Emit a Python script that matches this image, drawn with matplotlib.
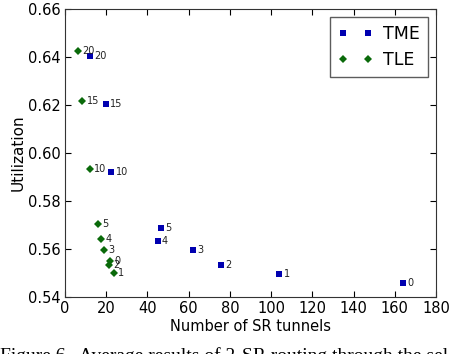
import matplotlib
matplotlib.use('Agg')
import matplotlib.pyplot as plt

# TME points (blue squares)
tme_x = [12, 20, 22.5, 46.5, 45, 62, 75.5, 104, 164]
tme_y = [0.6404, 0.6203, 0.5922, 0.5686, 0.5635, 0.5596, 0.5533, 0.5495, 0.5457]
tme_lbl = ['20', '15', '10', '5', '4', '3', '2', '1', '0']

# TLE points (green diamonds)
tle_x = [6.3, 8.4, 12.1, 16.2, 17.5, 18.9, 21.5, 23.8, 22]
tle_y = [0.6424, 0.6218, 0.5935, 0.5704, 0.5642, 0.5596, 0.5533, 0.5499, 0.5548]
tle_lbl = ['20', '15', '10', '5', '4', '3', '2', '1', '0']

fig = plt.figure(figsize=(4.74, 3.54), dpi=100)
ax = fig.add_axes([65/474, 1-297/354, 371/474, 288/354])

ax.plot(tme_x, tme_y, 's', color='#0000b0', markersize=4.5, markeredgewidth=0, label='TME')
ax.plot(tle_x, tle_y, 'D', color='#0a6a0a', markersize=4.5, markeredgewidth=0, label='TLE')

for x, y, t in zip(tme_x, tme_y, tme_lbl):
    ax.annotate(t, (x, y), xytext=(3, 0), textcoords='offset points',
                va='center', ha='left', fontsize=7, color='#222222')
for x, y, t in zip(tle_x, tle_y, tle_lbl):
    ax.annotate(t, (x, y), xytext=(3, 0), textcoords='offset points',
                va='center', ha='left', fontsize=7, color='#222222')

ax.set_xlim(0, 180)
ax.set_ylim(0.54, 0.66)
ax.set_xticks(range(0, 181, 20))
ax.set_yticks([0.54, 0.56, 0.58, 0.60, 0.62, 0.64, 0.66])
ax.tick_params(direction='in', top=True, right=True, labelsize=10.5, length=4, pad=3)
for s in ax.spines.values():
    s.set_color('#333333')
ax.set_xlabel('Number of SR tunnels', fontsize=10.5, labelpad=2)
ax.set_ylabel('Utilization', fontsize=11, labelpad=2)

leg = ax.legend(loc='upper right', numpoints=2, fontsize=12.5, fancybox=False,
                handlelength=2.0, handletextpad=0.6, borderpad=0.45, labelspacing=0.5,
                borderaxespad=0, bbox_to_anchor=(1 - 8/371, 1 - 8/288))
leg.get_frame().set_edgecolor('#333333')
leg.get_frame().set_linewidth(1.0)

fig.text(0.0, -0.02, 'Figure 6.  Average results of 2-SR routing through the sel',
         fontsize=14, family='Liberation Serif', ha='left', va='baseline')

fig.savefig('out.png', dpi=100)
